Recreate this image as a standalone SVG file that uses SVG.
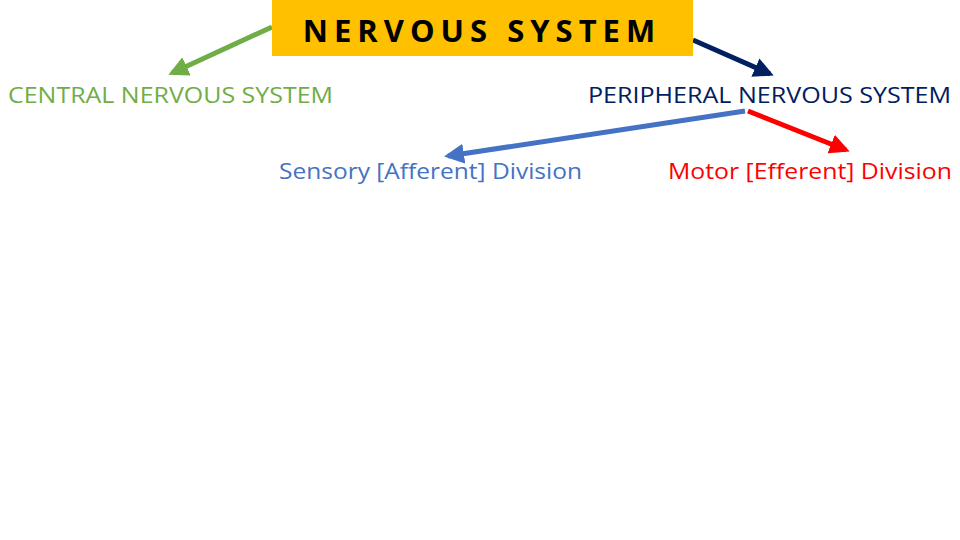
<svg xmlns="http://www.w3.org/2000/svg" width="960" height="540" viewBox="0 0 960 540">
<style>
text{font-family:"Open Sans","Liberation Sans",sans-serif;font-size:21px}
.c{stroke-width:5;fill:none}
</style>
<defs>
<marker id="ag" viewBox="0 0 10 10" refX="8" refY="5" markerWidth="4" markerHeight="4" orient="auto"><path d="M0,0L10,5L0,10z" fill="#70AD47"/></marker>
<marker id="an" viewBox="0 0 10 10" refX="8" refY="5" markerWidth="4" markerHeight="4" orient="auto"><path d="M0,0L10,5L0,10z" fill="#002060"/></marker>
<marker id="ab" viewBox="0 0 10 10" refX="8" refY="5" markerWidth="4" markerHeight="4" orient="auto"><path d="M0,0L10,5L0,10z" fill="#4472C4"/></marker>
<marker id="ar" viewBox="0 0 10 10" refX="8" refY="5" markerWidth="4" markerHeight="4" orient="auto"><path d="M0,0L10,5L0,10z" fill="#FF0000"/></marker>
</defs>
<rect width="960" height="540" fill="#fff"/>
<g id="connectors">
<line class="c" x1="272" y1="27" x2="172" y2="73" stroke="#70AD47" marker-end="url(#ag)"/>
<line class="c" x1="693" y1="40" x2="770" y2="74" stroke="#002060" marker-end="url(#an)"/>
<line class="c" x1="745" y1="111" x2="448" y2="156" stroke="#4472C4" marker-end="url(#ab)"/>
<line class="c" x1="748" y1="111" x2="846" y2="150" stroke="#FF0000" marker-end="url(#ar)"/>
</g>
<g id="root"><rect x="272" y="0" width="421" height="56" fill="#FFC000"/>
<text x="482" y="42" text-anchor="middle" font-weight="bold" style="font-size:31px;letter-spacing:6px" fill="#000">NERVOUS SYSTEM</text></g>
<g id="cns"><text x="8" y="103" fill="#70AD47" textLength="325" lengthAdjust="spacingAndGlyphs">CENTRAL NERVOUS SYSTEM</text></g>
<g id="pns"><text x="588" y="103" fill="#002060" textLength="363" lengthAdjust="spacingAndGlyphs">PERIPHERAL NERVOUS SYSTEM</text></g>
<g id="sensory"><text x="279" y="179" fill="#4472C4" textLength="303" lengthAdjust="spacingAndGlyphs">Sensory [Afferent] Division</text></g>
<g id="motor"><text x="668" y="179" fill="#FF0000" textLength="284" lengthAdjust="spacingAndGlyphs">Motor [Efferent] Division</text></g>
</svg>
